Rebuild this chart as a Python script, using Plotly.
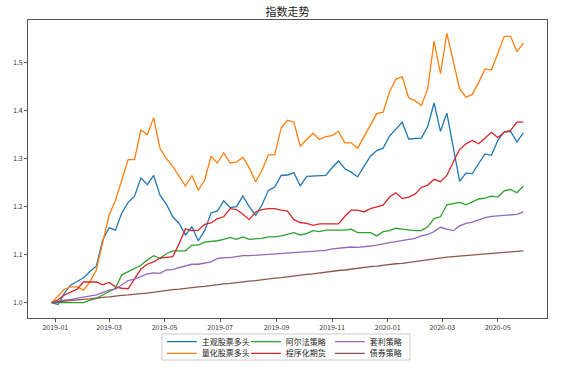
import plotly.graph_objects as go
import pandas as pd

dates = pd.date_range("2018-12-28", periods=75, freq="7D")

subjective = [1.000, 0.996, 1.020, 1.037, 1.044, 1.052, 1.065, 1.076, 1.130, 1.156,
              1.151, 1.187, 1.209, 1.222, 1.260, 1.246, 1.265, 1.224, 1.205, 1.179,
              1.165, 1.141, 1.158, 1.129, 1.150, 1.187, 1.191, 1.212, 1.198, 1.200,
              1.222, 1.200, 1.182, 1.204, 1.234, 1.241, 1.265, 1.266, 1.271, 1.243,
              1.263, 1.264, 1.264, 1.265, 1.281, 1.295, 1.279, 1.272, 1.262, 1.284,
              1.305, 1.317, 1.322, 1.347, 1.362, 1.376, 1.341, 1.342, 1.343, 1.367,
              1.416, 1.357, 1.395, 1.324, 1.253, 1.270, 1.269, 1.290, 1.310, 1.307,
              1.338, 1.356, 1.357, 1.335, 1.354]

quant = [1.000, 1.014, 1.028, 1.033, 1.033, 1.026, 1.044, 1.068, 1.123, 1.182,
         1.213, 1.255, 1.298, 1.298, 1.360, 1.350, 1.385, 1.321, 1.300, 1.284,
         1.263, 1.243, 1.265, 1.234, 1.255, 1.305, 1.291, 1.312, 1.291, 1.293,
         1.303, 1.281, 1.252, 1.276, 1.308, 1.308, 1.364, 1.380, 1.376, 1.326,
         1.340, 1.353, 1.340, 1.346, 1.348, 1.357, 1.333, 1.333, 1.322, 1.346,
         1.369, 1.394, 1.397, 1.439, 1.466, 1.471, 1.427, 1.421, 1.411, 1.446,
         1.545, 1.477, 1.561, 1.504, 1.446, 1.428, 1.434, 1.459, 1.487, 1.485,
         1.520, 1.555, 1.555, 1.523, 1.541]

alpha = [1.000, 1.000, 1.001, 1.000, 1.001, 1.000, 1.005, 1.009, 1.016, 1.023,
         1.030, 1.058, 1.065, 1.071, 1.078, 1.089, 1.098, 1.092, 1.102, 1.108,
         1.108, 1.108, 1.120, 1.120, 1.126, 1.127, 1.129, 1.132, 1.136, 1.132,
         1.137, 1.132, 1.133, 1.134, 1.137, 1.137, 1.139, 1.142, 1.146, 1.141,
         1.144, 1.150, 1.148, 1.151, 1.151, 1.151, 1.151, 1.153, 1.146, 1.146,
         1.146, 1.139, 1.148, 1.150, 1.155, 1.153, 1.151, 1.150, 1.150, 1.158,
         1.175, 1.179, 1.204, 1.207, 1.209, 1.204, 1.210, 1.216, 1.218, 1.222,
         1.220, 1.233, 1.236, 1.229, 1.243]

cta = [1.000, 1.006, 1.016, 1.022, 1.028, 1.043, 1.043, 1.043, 1.037, 1.042,
       1.033, 1.030, 1.029, 1.050, 1.070, 1.080, 1.085, 1.093, 1.094, 1.096,
       1.123, 1.154, 1.150, 1.151, 1.163, 1.166, 1.175, 1.179, 1.196, 1.194,
       1.184, 1.173, 1.189, 1.194, 1.196, 1.196, 1.193, 1.191, 1.173, 1.167,
       1.165, 1.161, 1.164, 1.164, 1.163, 1.164, 1.180, 1.193, 1.193, 1.189,
       1.196, 1.200, 1.203, 1.220, 1.229, 1.217, 1.220, 1.226, 1.240, 1.245,
       1.257, 1.252, 1.265, 1.293, 1.319, 1.331, 1.338, 1.331, 1.344, 1.355,
       1.344, 1.355, 1.359, 1.376, 1.376]

arbitrage = [1.000, 1.003, 1.005, 1.007, 1.009, 1.011, 1.013, 1.016, 1.021, 1.026,
             1.028, 1.037, 1.046, 1.049, 1.054, 1.060, 1.062, 1.061, 1.068, 1.069,
             1.073, 1.077, 1.080, 1.080, 1.082, 1.085, 1.092, 1.094, 1.094, 1.096,
             1.098, 1.098, 1.099, 1.099, 1.101, 1.101, 1.103, 1.104, 1.104, 1.105,
             1.106, 1.107, 1.108, 1.109, 1.112, 1.113, 1.115, 1.116, 1.115, 1.116,
             1.118, 1.120, 1.123, 1.125, 1.127, 1.129, 1.131, 1.134, 1.139, 1.142,
             1.148, 1.157, 1.153, 1.150, 1.160, 1.165, 1.168, 1.173, 1.177, 1.180,
             1.181, 1.182, 1.184, 1.184, 1.189]

bond = [1.000, 1.002, 1.003, 1.004, 1.006, 1.007, 1.008, 1.010, 1.011, 1.012,
        1.014, 1.015, 1.016, 1.018, 1.019, 1.020, 1.022, 1.023, 1.025, 1.027,
        1.028, 1.030, 1.031, 1.033, 1.034, 1.036, 1.037, 1.039, 1.040, 1.042,
        1.043, 1.045, 1.046, 1.048, 1.049, 1.051, 1.052, 1.054, 1.056, 1.057,
        1.059, 1.060, 1.062, 1.063, 1.065, 1.067, 1.068, 1.070, 1.071, 1.073,
        1.075, 1.076, 1.078, 1.079, 1.081, 1.082, 1.084, 1.086, 1.087, 1.089,
        1.091, 1.093, 1.095, 1.096, 1.097, 1.098, 1.099, 1.100, 1.102, 1.103,
        1.104, 1.105, 1.106, 1.107, 1.108]

names = ["主观股票多头", "量化股票多头", "阿尔法策略", "程序化期货", "套利策略", "债券策略"]
series = [subjective, quant, alpha, cta, arbitrage, bond]
colors = ["#1f77b4", "#ff7f0e", "#2ca02c", "#d62728", "#9467bd", "#8c564b"]
legend_row = ["legend", "legend2", "legend", "legend2", "legend", "legend2"]

FONT = "Noto Sans CJK SC"
fig = go.Figure()
for nm, ys, c, lg in zip(names, series, colors, legend_row):
    fig.add_trace(go.Scatter(x=dates, y=ys, mode="lines", name=nm,
                             line=dict(color=c, width=1.3), legend=lg))

leg_common = dict(orientation="h", xref="container", yref="container",
                  x=0.281, xanchor="left", yanchor="middle",
                  borderwidth=0, bgcolor="rgba(0,0,0,0)",
                  font=dict(family=FONT, size=8, color="#222"),
                  entrywidth=39, entrywidthmode="pixels", itemwidth=30)

fig.update_layout(
    width=576, height=384,
    margin=dict(l=28, r=29, t=20, b=66),
    paper_bgcolor="white", plot_bgcolor="white",
    font=dict(family=FONT, size=7, color="#333"),
    title=dict(text="指数走势", x=0.5, xref="paper", y=0.968, yanchor="middle",
               font=dict(family=FONT, size=11, color="#222")),
    showlegend=True,
    legend=dict(y=1 - 341.7 / 384, **leg_common),
    legend2=dict(y=1 - 353.3 / 384, **leg_common),
    shapes=[dict(type="rect", xref="paper", yref="paper",
                 x0=(162 - 28) / 519, x1=(410 - 28) / 519,
                 y0=(318 - 334) / 298, y1=(318 - 360) / 298,
                 line=dict(color="#cccccc", width=1), fillcolor="rgba(0,0,0,0)",
                 layer="below")],
)
fig.update_xaxes(range=["2018-12-02", "2020-06-24"], tickformat="%Y-%m",
                 dtick="M2", tick0="2019-01-01", showgrid=False, automargin=False,
                 showline=True, mirror=True, linecolor="#555", linewidth=1,
                 ticks="outside", ticklen=3, tickcolor="#555", zeroline=False,
                 tickfont=dict(size=7, color="#333"))
fig.update_yaxes(range=[0.968, 1.589], tickvals=[1.0, 1.1, 1.2, 1.3, 1.4, 1.5],
                 tickformat=".1f", showgrid=False, automargin=False,
                 showline=True, mirror=True, linecolor="#555", linewidth=1,
                 ticks="outside", ticklen=3, tickcolor="#555", zeroline=False,
                 tickfont=dict(size=7, color="#333"))

fig.write_html("out.html", config={"displayModeBar": False},
               post_script="document.body.style.margin='0';document.body.style.overflow='hidden';")
